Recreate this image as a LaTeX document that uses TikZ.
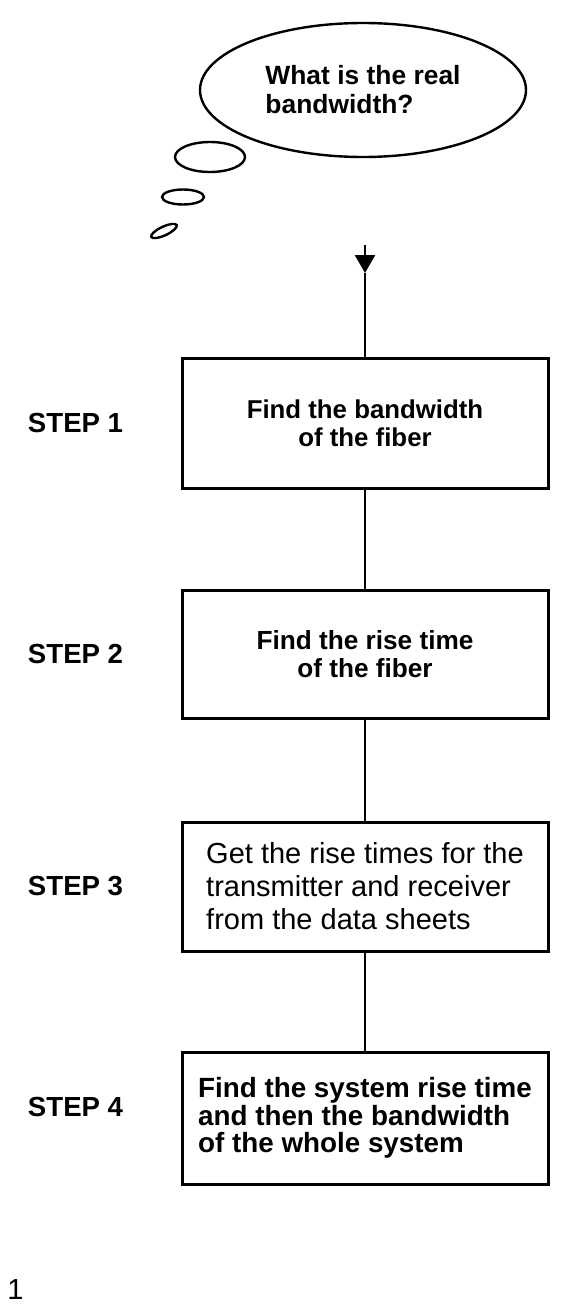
\documentclass[tikz,border=0pt]{standalone}
\usepackage{fontspec}
\setmainfont{Liberation Sans}
\usetikzlibrary{positioning,shapes.geometric,arrows.meta}

\tikzset{
  stepbox/.style={draw,line width=1.5pt,minimum width=183pt,inner sep=0pt},
  steplabel/.style={font=\fontsize{13.8}{15}\selectfont\bfseries,inner sep=0pt},
  thought/.style={draw,ellipse,line width=1.2pt,inner sep=0pt},
  link/.style={line width=1.3pt},
}

\begin{document}
\begin{tikzpicture}[x=0.5pt,y=0.5pt,>={Triangle[width=10pt,length=9pt]}]
   \useasboundingbox (0,0) rectangle (573,-1306);

   % 吹き出し
   \node[thought,minimum width=163pt,minimum height=67pt,align=left,
         font=\fontsize{13.2}{14.5}\selectfont\bfseries] (question) at (363,-90)
         {What is the real\\bandwidth?};
   \draw[line width=1.2pt] (210,-157) ellipse [x radius=17.5pt,y radius=7.5pt];
   \draw[line width=1.2pt] (183,-197) ellipse [x radius=10.5pt,y radius=3.75pt];
   \draw[line width=1.2pt,rotate around={25:(164,-231)}] (164,-231) ellipse [x radius=7pt,y radius=2.2pt];

   % 手順
   \node[stepbox,minimum height=65pt,align=center,
         font=\fontsize{12.9}{14}\selectfont\bfseries] (fiberbw) at (365,-423)
         {Find the bandwidth\\of the fiber};
   \node[stepbox,minimum height=64pt,align=center,
         font=\fontsize{13.1}{14}\selectfont\bfseries] (fiberrise) at (365,-654)
         {Find the rise time\\of the fiber};
   \node[stepbox,minimum height=64.5pt,align=left,
         font=\fontsize{14.5}{16.5}\selectfont] (txrx) at (365,-886.5)
         {Get the rise times for the\\transmitter and receiver\\from the data sheets};
   \node[stepbox,minimum height=66pt,align=left,
         font=\fontsize{13.9}{13.8}\selectfont\bfseries] (system) at (365,-1118)
         {Find the system rise time\\and then the bandwidth\\of the whole system};

   \node[steplabel,left=28.5pt of fiberbw] (step1) {STEP 1};
   \node[steplabel,left=28.5pt of fiberrise] (step2) {STEP 2};
   \node[steplabel,left=28.5pt of txrx] (step3) {STEP 3};
   \node[steplabel,left=28.5pt of system,yshift=5.5pt] (step4) {STEP 4};

   % 矢印と線
   \coordinate (start) at (365,-245);
   \coordinate (tip) at (365,-273);
   \draw[->,link] (start) -- (tip);
   \draw[link] (tip) -- (fiberbw.north);
   \draw[link] (fiberbw) -- (fiberrise);
   \draw[link] (fiberrise) -- (txrx);
   \draw[link] (txrx) -- (system);

   \node[anchor=north west,inner sep=0pt,font=\fontsize{14.5}{16}\selectfont] (fignum) at (7,-1279) {1};
\end{tikzpicture}
\end{document}
